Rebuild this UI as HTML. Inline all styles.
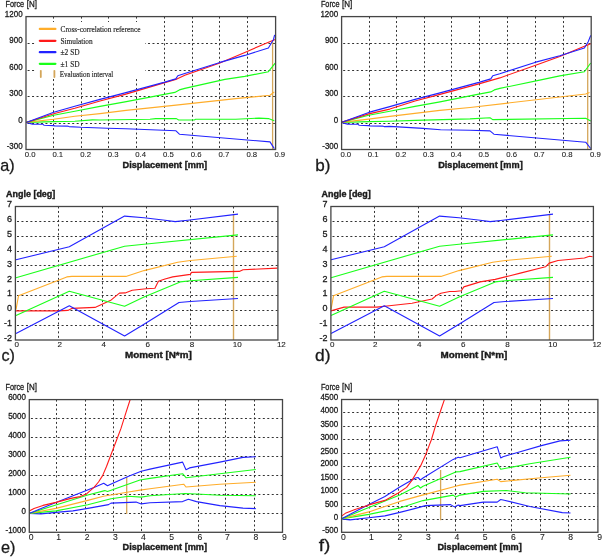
<!DOCTYPE html><html><head><meta charset="utf-8"><style>html,body{margin:0;padding:0;background:#fff;}svg{display:block;will-change:transform;}</style></head><body>
<svg width="602" height="557" viewBox="0 0 602 557" font-family="Liberation Sans, sans-serif">
<style>text{stroke:#1a1a1a;stroke-width:0.28px;paint-order:normal;} .tk text{stroke-width:0.08px;} .lg text{stroke:#2a2a2a;stroke-width:0.18px;} text.b{stroke-width:0.4px;}</style>
<rect x="0" y="0" width="602" height="557" fill="#fff"/>
<g stroke="#333333" stroke-width="1" stroke-dasharray="2 2.46" stroke-dashoffset="2.86" fill="none"><line x1="26" y1="43.5" x2="275.6" y2="43.5"/><line x1="26" y1="70.5" x2="275.6" y2="70.5"/><line x1="26" y1="96.5" x2="275.6" y2="96.5"/><line x1="26" y1="123.5" x2="275.6" y2="123.5"/></g>
<g stroke="#333333" stroke-width="1" stroke-dasharray="2 2.46" fill="none"><line x1="53.5" y1="16.6" x2="53.5" y2="149.5"/><line x1="81.5" y1="16.6" x2="81.5" y2="149.5"/><line x1="108.5" y1="16.6" x2="108.5" y2="149.5"/><line x1="136.5" y1="16.6" x2="136.5" y2="149.5"/><line x1="164.5" y1="16.6" x2="164.5" y2="149.5"/><line x1="192.5" y1="16.6" x2="192.5" y2="149.5"/><line x1="219.5" y1="16.6" x2="219.5" y2="149.5"/><line x1="247.5" y1="16.6" x2="247.5" y2="149.5"/></g>
<rect x="35" y="22" width="110" height="57" fill="#fff"/>
<g class="lg" font-family="Liberation Serif, serif" font-size="8.1" fill="#2a2a2a"><text x="60.5" y="32" textLength="80" lengthAdjust="spacingAndGlyphs">Cross-correlation reference</text><text x="60.5" y="43.6" textLength="32.1" lengthAdjust="spacingAndGlyphs">Simulation</text><text x="60.5" y="55.1" textLength="19.1" lengthAdjust="spacingAndGlyphs">±2 SD</text><text x="60.5" y="66.6" textLength="19.1" lengthAdjust="spacingAndGlyphs">±1 SD</text><text x="59.7" y="77.1" textLength="53.5" lengthAdjust="spacingAndGlyphs">Evaluation interval</text></g>
<line x1="39.8" y1="28.9" x2="55.4" y2="28.9" stroke="#ffad2a" stroke-width="2.2" stroke-linecap="round"/><line x1="39.8" y1="40.8" x2="55.4" y2="40.8" stroke="#ff1a1a" stroke-width="2.2" stroke-linecap="round"/><line x1="39.8" y1="52.2" x2="55.4" y2="52.2" stroke="#2222ff" stroke-width="2.2" stroke-linecap="round"/><line x1="39.8" y1="63.8" x2="55.4" y2="63.8" stroke="#1aff1a" stroke-width="2.2" stroke-linecap="round"/><line x1="40.8" y1="70.8" x2="40.8" y2="77" stroke="#d4a65a" stroke-width="1.8" stroke-linecap="round"/><line x1="54.4" y1="70.8" x2="54.4" y2="77" stroke="#d4a65a" stroke-width="1.8" stroke-linecap="round"/>
<polyline points="272.6,41.5 272.6,149.4" fill="none" stroke="#d4a65a" stroke-width="1.3" stroke-linejoin="round"/>
<polyline points="26.2,122.4 53.7,121.6 74.8,121.2 92.4,119.9 100,120 150,119.3 155.7,118.6 176.4,118.6 178.6,120 194.3,120 195.7,119.3 235.7,119.3 259,118.1 268.4,118.6 274.3,120.7" fill="none" stroke="#1aff1a" stroke-width="1.1" stroke-linejoin="round"/>
<polyline points="26.2,122.4 32.5,124.1 42.9,124.2 44.1,125.3 53.2,125.6 54.9,125.9 67.4,126.1 69,126.6 80.8,127.3 107.4,128.2 125.7,128.7 176,130.8 179.4,134.2 270,141.9 274.3,148.6" fill="none" stroke="#2222ff" stroke-width="1.1" stroke-linejoin="round"/>
<polyline points="26.2,122.4 53.7,119.3 74.8,116.2 100,113.6 126,110.4 150,107.9 176,105.1 235.7,98.6 270,95.3 274.3,91.9" fill="none" stroke="#ffad2a" stroke-width="1.1" stroke-linejoin="round"/>
<polyline points="26.2,122.4 53.7,115.3 74.8,111.2 100,106.4 125,101.9 150,97.1 174.8,92.4 179.3,89.9 184.8,88.4 224.9,79.4 244.8,76.4 268.4,71.7 275.2,63.2" fill="none" stroke="#1aff1a" stroke-width="1.1" stroke-linejoin="round"/>
<polyline points="26.2,122.4 53.7,113.7 74.8,108.3 100,101 125,94.4 163.9,82.9 175.8,79.4 184.8,75.2 219.9,62.9 244.8,52.4 270.9,41.2 275.2,39.5" fill="none" stroke="#ff1a1a" stroke-width="1.1" stroke-linejoin="round"/>
<polyline points="26.2,122.4 53.7,112.3 74.8,106.2 100,99.4 125,92.9 163.9,82.4 175.8,78.9 177.8,75.8 184.8,73.5 219.9,62.4 244.8,55.4 268.4,48 273.5,39.5 274.6,34.9" fill="none" stroke="#2222ff" stroke-width="1.1" stroke-linejoin="round"/>
<rect x="26" y="16.6" width="249.6" height="132.9" fill="none" stroke="#454545" stroke-width="1.3"/>
<g font-size="8.4" fill="#1a1a1a" text-anchor="end"><text x="22.6" y="16.8" textLength="17.75" lengthAdjust="spacingAndGlyphs">1200</text><text x="22.6" y="42.9" textLength="13.31" lengthAdjust="spacingAndGlyphs">900</text><text x="22.6" y="69.85" textLength="13.31" lengthAdjust="spacingAndGlyphs">600</text><text x="22.6" y="96.1" textLength="13.31" lengthAdjust="spacingAndGlyphs">300</text><text x="22.6" y="122.9" textLength="4.44" lengthAdjust="spacingAndGlyphs">0</text><text x="22.6" y="149" textLength="15.97" lengthAdjust="spacingAndGlyphs">-300</text></g>
<g class="tk" font-size="8.0" fill="#1a1a1a"><text x="24.8" y="156.9" textLength="10.79" lengthAdjust="spacingAndGlyphs">0.0</text><text x="52.4" y="156.9" textLength="10.79" lengthAdjust="spacingAndGlyphs">0.1</text><text x="80.2" y="156.9" textLength="10.79" lengthAdjust="spacingAndGlyphs">0.2</text><text x="107.7" y="156.9" textLength="10.79" lengthAdjust="spacingAndGlyphs">0.3</text><text x="135.3" y="156.9" textLength="10.79" lengthAdjust="spacingAndGlyphs">0.4</text><text x="163" y="156.9" textLength="10.79" lengthAdjust="spacingAndGlyphs">0.5</text><text x="190.8" y="156.9" textLength="10.79" lengthAdjust="spacingAndGlyphs">0.6</text><text x="218.5" y="156.9" textLength="10.79" lengthAdjust="spacingAndGlyphs">0.7</text><text x="246.4" y="156.9" textLength="10.79" lengthAdjust="spacingAndGlyphs">0.8</text><text x="274.4" y="156.9" textLength="10.79" lengthAdjust="spacingAndGlyphs">0.9</text></g>
<text x="5.5" y="7.3" font-size="8.2" fill="#1a1a1a" textLength="18.6" lengthAdjust="spacingAndGlyphs">Force</text>
<text x="26.7" y="7.2" font-size="8.2" fill="#1a1a1a" textLength="10.2" lengthAdjust="spacingAndGlyphs">[N]</text>
<text x="122.6" y="167.5" font-size="9.4" font-weight="bold" class="b" fill="#1a1a1a" textLength="84.5" lengthAdjust="spacingAndGlyphs">Displacement [mm]</text>
<text x="0.3" y="170.5" font-size="17" fill="#1a1a1a" textLength="14.4" lengthAdjust="spacingAndGlyphs">a)</text>
<g stroke="#333333" stroke-width="1" stroke-dasharray="2 2.46" stroke-dashoffset="2.86" fill="none"><line x1="341.6" y1="43.5" x2="591.2" y2="43.5"/><line x1="341.6" y1="70.5" x2="591.2" y2="70.5"/><line x1="341.6" y1="96.5" x2="591.2" y2="96.5"/><line x1="341.6" y1="123.5" x2="591.2" y2="123.5"/></g>
<g stroke="#333333" stroke-width="1" stroke-dasharray="2 2.46" fill="none"><line x1="369.5" y1="16.6" x2="369.5" y2="149.5"/><line x1="396.5" y1="16.6" x2="396.5" y2="149.5"/><line x1="424.5" y1="16.6" x2="424.5" y2="149.5"/><line x1="451.5" y1="16.6" x2="451.5" y2="149.5"/><line x1="479.5" y1="16.6" x2="479.5" y2="149.5"/><line x1="507.5" y1="16.6" x2="507.5" y2="149.5"/><line x1="535.5" y1="16.6" x2="535.5" y2="149.5"/><line x1="563.5" y1="16.6" x2="563.5" y2="149.5"/></g>
<polyline points="587.7,45 587.7,149.4" fill="none" stroke="#d4a65a" stroke-width="1.3" stroke-linejoin="round"/>
<polyline points="341.2,122.4 368.7,121.6 389.8,121.2 415.4,120.4 470,118.9 490,117.8 492.7,119.6 585.7,118.3 590.7,120.9" fill="none" stroke="#1aff1a" stroke-width="1.1" stroke-linejoin="round"/>
<polyline points="341.2,122.4 347.5,124.1 358,124.2 359.2,125.3 368.5,125.6 370,125.9 382.5,126.1 384,126.6 389.8,126.4 423,128.4 440.6,129.7 470,130.2 490,130.9 493.9,134.2 585.7,142.2 590.7,148.5" fill="none" stroke="#2222ff" stroke-width="1.1" stroke-linejoin="round"/>
<polyline points="341.2,122.4 368.7,119.1 389.8,116.4 439.8,110.4 470,107.5 585.7,94 589.5,92.5" fill="none" stroke="#ffad2a" stroke-width="1.1" stroke-linejoin="round"/>
<polyline points="341.2,122.4 368.7,115.3 389.8,111.2 415,106.4 440,101.9 474.9,94.9 490.8,91.9 494.3,89.9 499.8,88.4 540.9,79.9 559.8,75.9 584.4,71.8 590.7,63" fill="none" stroke="#1aff1a" stroke-width="1.1" stroke-linejoin="round"/>
<polyline points="341.2,122.4 368.7,113.9 389.8,109.1 415,101 440,94.4 478.9,83.9 499.8,77.9 534.9,65.4 559.8,56.4 583.2,46.7 590.7,43.7" fill="none" stroke="#ff1a1a" stroke-width="1.1" stroke-linejoin="round"/>
<polyline points="341.2,122.4 368.7,112.4 389.8,106.6 415,99.4 440,92.9 478.9,82.4 490.8,78.9 492.8,75.7 499.8,73.7 534.9,62.4 559.8,55.7 584.4,48 588.2,41.7 590.7,35.4" fill="none" stroke="#2222ff" stroke-width="1.1" stroke-linejoin="round"/>
<rect x="341.6" y="16.6" width="249.6" height="132.9" fill="none" stroke="#454545" stroke-width="1.3"/>
<g font-size="8.4" fill="#1a1a1a" text-anchor="end"><text x="338.2" y="16.8" textLength="17.75" lengthAdjust="spacingAndGlyphs">1200</text><text x="338.2" y="42.9" textLength="13.31" lengthAdjust="spacingAndGlyphs">900</text><text x="338.2" y="69.85" textLength="13.31" lengthAdjust="spacingAndGlyphs">600</text><text x="338.2" y="96.1" textLength="13.31" lengthAdjust="spacingAndGlyphs">300</text><text x="338.2" y="122.9" textLength="4.44" lengthAdjust="spacingAndGlyphs">0</text><text x="338.2" y="149" textLength="15.97" lengthAdjust="spacingAndGlyphs">-300</text></g>
<g class="tk" font-size="8.0" fill="#1a1a1a"><text x="340.4" y="156.9" textLength="10.79" lengthAdjust="spacingAndGlyphs">0.0</text><text x="367.8" y="156.9" textLength="10.79" lengthAdjust="spacingAndGlyphs">0.1</text><text x="395.6" y="156.9" textLength="10.79" lengthAdjust="spacingAndGlyphs">0.2</text><text x="423.1" y="156.9" textLength="10.79" lengthAdjust="spacingAndGlyphs">0.3</text><text x="450.7" y="156.9" textLength="10.79" lengthAdjust="spacingAndGlyphs">0.4</text><text x="478.4" y="156.9" textLength="10.79" lengthAdjust="spacingAndGlyphs">0.5</text><text x="506.2" y="156.9" textLength="10.79" lengthAdjust="spacingAndGlyphs">0.6</text><text x="533.9" y="156.9" textLength="10.79" lengthAdjust="spacingAndGlyphs">0.7</text><text x="561.8" y="156.9" textLength="10.79" lengthAdjust="spacingAndGlyphs">0.8</text><text x="590" y="156.9" textLength="10.79" lengthAdjust="spacingAndGlyphs">0.9</text></g>
<text x="320.9" y="7.3" font-size="8.2" fill="#1a1a1a" textLength="18.6" lengthAdjust="spacingAndGlyphs">Force</text>
<text x="342.1" y="7.2" font-size="8.2" fill="#1a1a1a" textLength="10.2" lengthAdjust="spacingAndGlyphs">[N]</text>
<text x="438.20000000000005" y="167.5" font-size="9.4" font-weight="bold" class="b" fill="#1a1a1a" textLength="84.5" lengthAdjust="spacingAndGlyphs">Displacement [mm]</text>
<text x="315.2" y="170.5" font-size="17" fill="#1a1a1a" textLength="15.2" lengthAdjust="spacingAndGlyphs">b)</text>
<g stroke="#333333" stroke-width="1" stroke-dasharray="2 2.46" stroke-dashoffset="2.86" fill="none"><line x1="15.4" y1="221.5" x2="277.9" y2="221.5"/><line x1="15.4" y1="236.5" x2="277.9" y2="236.5"/><line x1="15.4" y1="251.5" x2="277.9" y2="251.5"/><line x1="15.4" y1="265.5" x2="277.9" y2="265.5"/><line x1="15.4" y1="281.5" x2="277.9" y2="281.5"/><line x1="15.4" y1="295.5" x2="277.9" y2="295.5"/><line x1="15.4" y1="310.5" x2="277.9" y2="310.5"/><line x1="15.4" y1="325.5" x2="277.9" y2="325.5"/></g>
<g stroke="#333333" stroke-width="1" stroke-dasharray="2 2.46" fill="none"><line x1="58.5" y1="206.5" x2="58.5" y2="340"/><line x1="102.5" y1="206.5" x2="102.5" y2="340"/><line x1="146.5" y1="206.5" x2="146.5" y2="340"/><line x1="190.5" y1="206.5" x2="190.5" y2="340"/><line x1="233.5" y1="206.5" x2="233.5" y2="340"/></g>
<polyline points="233.5,213.8 233.5,340" fill="none" stroke="#d4a65a" stroke-width="1.4" stroke-linejoin="round"/>
<polyline points="16,310.9 58.9,310.9 67.8,310.4 71.8,308.4 95,307.4 111.3,299.9 119.4,293.1 125.2,292.9 132.2,290.3 146.2,288.8 154.9,288.3 158.4,281.3 165,279 172.7,276.9 190.3,274.4 191.5,272.4 239.3,271.4 243,269.8 277.4,268.1" fill="none" stroke="#ff1a1a" stroke-width="1.1" stroke-linejoin="round"/>
<polyline points="16,333.5 69.3,305.8 124.6,336 144,324.2 179,302.5 190.3,301.5 238,298.5" fill="none" stroke="#2222ff" stroke-width="1.1" stroke-linejoin="round"/>
<polyline points="16,315.4 69.3,291.3 124.6,306.3 144,297 180.2,281.9 190.3,280.7 238,277.4" fill="none" stroke="#1aff1a" stroke-width="1.1" stroke-linejoin="round"/>
<polyline points="16,309.6 18.5,295.8 66.8,276.9 71.8,276.4 125.9,276.4 144,270.6 177.7,262.3 190.3,260.5 236.8,256.3" fill="none" stroke="#ffad2a" stroke-width="1.1" stroke-linejoin="round"/>
<polyline points="16,277.7 124.6,246.2 144,244.2 238,234.9" fill="none" stroke="#1aff1a" stroke-width="1.1" stroke-linejoin="round"/>
<polyline points="16,259.8 69.3,246.7 124.6,216.1 144,217.8 165.1,220.3 175.2,221.6 187.8,220.3 238,214.1" fill="none" stroke="#2222ff" stroke-width="1.1" stroke-linejoin="round"/>
<rect x="15.4" y="206.5" width="262.5" height="133.5" fill="none" stroke="#454545" stroke-width="1.3"/>
<g font-size="9.0" fill="#1a1a1a" text-anchor="end"><text x="12" y="206.7" textLength="5" lengthAdjust="spacingAndGlyphs">7</text><text x="12" y="222.3" textLength="5" lengthAdjust="spacingAndGlyphs">6</text><text x="12" y="237.2" textLength="5" lengthAdjust="spacingAndGlyphs">5</text><text x="12" y="252" textLength="5" lengthAdjust="spacingAndGlyphs">4</text><text x="12" y="266.6" textLength="5" lengthAdjust="spacingAndGlyphs">3</text><text x="12" y="281.7" textLength="5" lengthAdjust="spacingAndGlyphs">2</text><text x="12" y="296.2" textLength="5" lengthAdjust="spacingAndGlyphs">1</text><text x="12" y="311.3" textLength="5" lengthAdjust="spacingAndGlyphs">0</text><text x="12" y="325.8" textLength="8" lengthAdjust="spacingAndGlyphs">-1</text><text x="12" y="340.7" textLength="8" lengthAdjust="spacingAndGlyphs">-2</text></g>
<g class="tk" font-size="7.2" fill="#1a1a1a"><text x="14.4" y="347.4" textLength="4.48" lengthAdjust="spacingAndGlyphs">0</text><text x="57.6" y="347.4" textLength="4.48" lengthAdjust="spacingAndGlyphs">2</text><text x="101.6" y="347.4" textLength="4.48" lengthAdjust="spacingAndGlyphs">4</text><text x="145.4" y="347.4" textLength="4.48" lengthAdjust="spacingAndGlyphs">6</text><text x="189.7" y="347.4" textLength="4.48" lengthAdjust="spacingAndGlyphs">8</text><text x="232.7" y="347.4" textLength="8.97" lengthAdjust="spacingAndGlyphs">10</text><text x="276.9" y="347.4" textLength="8.97" lengthAdjust="spacingAndGlyphs">12</text></g>
<text x="6.1" y="197.0" font-size="9.0" font-weight="bold" class="b" fill="#1a1a1a" textLength="49.2" lengthAdjust="spacingAndGlyphs">Angle [deg]</text>
<text x="125.0" y="357.6" font-size="9.4" font-weight="bold" class="b" fill="#1a1a1a" textLength="66.7" lengthAdjust="spacingAndGlyphs">Moment [N*m]</text>
<text x="1.5" y="360.5" font-size="17" fill="#1a1a1a" textLength="13.5" lengthAdjust="spacingAndGlyphs">c)</text>
<g stroke="#333333" stroke-width="1" stroke-dasharray="2 2.46" stroke-dashoffset="2.86" fill="none"><line x1="330.9" y1="221.5" x2="593.4" y2="221.5"/><line x1="330.9" y1="236.5" x2="593.4" y2="236.5"/><line x1="330.9" y1="251.5" x2="593.4" y2="251.5"/><line x1="330.9" y1="265.5" x2="593.4" y2="265.5"/><line x1="330.9" y1="281.5" x2="593.4" y2="281.5"/><line x1="330.9" y1="295.5" x2="593.4" y2="295.5"/><line x1="330.9" y1="310.5" x2="593.4" y2="310.5"/><line x1="330.9" y1="325.5" x2="593.4" y2="325.5"/></g>
<g stroke="#333333" stroke-width="1" stroke-dasharray="2 2.46" fill="none"><line x1="374.5" y1="206.5" x2="374.5" y2="340"/><line x1="418.5" y1="206.5" x2="418.5" y2="340"/><line x1="461.5" y1="206.5" x2="461.5" y2="340"/><line x1="506.5" y1="206.5" x2="506.5" y2="340"/><line x1="549.5" y1="206.5" x2="549.5" y2="340"/></g>
<polyline points="549.5,213.8 549.5,340" fill="none" stroke="#d4a65a" stroke-width="1.4" stroke-linejoin="round"/>
<polyline points="331,310.9 344.1,307.1 376.8,307.1 389.3,305.8 412,303.3 432.1,299 435.9,295.8 440.9,293.3 449.7,291.5 455,291.5 461.3,290.7 463.8,286.9 480.1,281.9 495.2,279.4 505.3,276.9 520.3,273.1 545.5,266.8 549.2,263.1 558,260.5 584.4,258 589.5,256.3 592.6,256.8" fill="none" stroke="#ff1a1a" stroke-width="1.1" stroke-linejoin="round"/>
<polyline points="331,333.5 384.3,305.8 439.6,336 459,324.2 494,302.5 505.3,301.5 553,298.5" fill="none" stroke="#2222ff" stroke-width="1.1" stroke-linejoin="round"/>
<polyline points="331,315.4 384.3,291.3 439.6,306.3 459,297 495.2,281.9 505.3,280.7 553,277.4" fill="none" stroke="#1aff1a" stroke-width="1.1" stroke-linejoin="round"/>
<polyline points="331,309.6 333.5,295.8 381.8,276.9 386.8,276.4 440.9,276.4 459,270.6 492.7,262.3 505.3,260.5 551.8,256.3" fill="none" stroke="#ffad2a" stroke-width="1.1" stroke-linejoin="round"/>
<polyline points="331,277.7 439.6,246.2 459,244.2 553,234.9" fill="none" stroke="#1aff1a" stroke-width="1.1" stroke-linejoin="round"/>
<polyline points="331,259.8 384.3,246.7 439.6,216.1 459,217.8 480.1,220.3 490.2,221.6 502.8,220.3 553,214.1" fill="none" stroke="#2222ff" stroke-width="1.1" stroke-linejoin="round"/>
<rect x="330.9" y="206.5" width="262.5" height="133.5" fill="none" stroke="#454545" stroke-width="1.3"/>
<g font-size="9.0" fill="#1a1a1a" text-anchor="end"><text x="327.5" y="206.7" textLength="5" lengthAdjust="spacingAndGlyphs">7</text><text x="327.5" y="222.3" textLength="5" lengthAdjust="spacingAndGlyphs">6</text><text x="327.5" y="237.2" textLength="5" lengthAdjust="spacingAndGlyphs">5</text><text x="327.5" y="252" textLength="5" lengthAdjust="spacingAndGlyphs">4</text><text x="327.5" y="266.6" textLength="5" lengthAdjust="spacingAndGlyphs">3</text><text x="327.5" y="281.7" textLength="5" lengthAdjust="spacingAndGlyphs">2</text><text x="327.5" y="296.2" textLength="5" lengthAdjust="spacingAndGlyphs">1</text><text x="327.5" y="311.3" textLength="5" lengthAdjust="spacingAndGlyphs">0</text><text x="327.5" y="325.8" textLength="8" lengthAdjust="spacingAndGlyphs">-1</text><text x="327.5" y="340.7" textLength="8" lengthAdjust="spacingAndGlyphs">-2</text></g>
<g class="tk" font-size="7.2" fill="#1a1a1a"><text x="329.9" y="347.4" textLength="4.48" lengthAdjust="spacingAndGlyphs">0</text><text x="373.1" y="347.4" textLength="4.48" lengthAdjust="spacingAndGlyphs">2</text><text x="417.1" y="347.4" textLength="4.48" lengthAdjust="spacingAndGlyphs">4</text><text x="460.9" y="347.4" textLength="4.48" lengthAdjust="spacingAndGlyphs">6</text><text x="505.2" y="347.4" textLength="4.48" lengthAdjust="spacingAndGlyphs">8</text><text x="548.2" y="347.4" textLength="8.97" lengthAdjust="spacingAndGlyphs">10</text><text x="592.4" y="347.4" textLength="8.97" lengthAdjust="spacingAndGlyphs">12</text></g>
<text x="321.6" y="197.0" font-size="9.0" font-weight="bold" class="b" fill="#1a1a1a" textLength="49.2" lengthAdjust="spacingAndGlyphs">Angle [deg]</text>
<text x="440.5" y="357.6" font-size="9.4" font-weight="bold" class="b" fill="#1a1a1a" textLength="66.7" lengthAdjust="spacingAndGlyphs">Moment [N*m]</text>
<text x="315.0" y="360.5" font-size="17" fill="#1a1a1a" textLength="15.5" lengthAdjust="spacingAndGlyphs">d)</text>
<g stroke="#333333" stroke-width="1" stroke-dasharray="2 2.46" stroke-dashoffset="2.86" fill="none"><line x1="29.3" y1="418.5" x2="282.5" y2="418.5"/><line x1="29.3" y1="437.5" x2="282.5" y2="437.5"/><line x1="29.3" y1="456.5" x2="282.5" y2="456.5"/><line x1="29.3" y1="475.5" x2="282.5" y2="475.5"/><line x1="29.3" y1="494.5" x2="282.5" y2="494.5"/><line x1="29.3" y1="513.5" x2="282.5" y2="513.5"/></g>
<g stroke="#333333" stroke-width="1" stroke-dasharray="2 2.46" fill="none"><line x1="56.5" y1="399.6" x2="56.5" y2="532.3"/><line x1="85.5" y1="399.6" x2="85.5" y2="532.3"/><line x1="113.5" y1="399.6" x2="113.5" y2="532.3"/><line x1="141.5" y1="399.6" x2="141.5" y2="532.3"/><line x1="169.5" y1="399.6" x2="169.5" y2="532.3"/><line x1="198.5" y1="399.6" x2="198.5" y2="532.3"/><line x1="225.5" y1="399.6" x2="225.5" y2="532.3"/><line x1="254.5" y1="399.6" x2="254.5" y2="532.3"/></g>
<polyline points="126.7,477 126.7,514" fill="none" stroke="#d4a65a" stroke-width="1.3" stroke-linejoin="round"/>
<polyline points="29.2,513.4 41,513.9 55.9,512.4 72.9,510.9 87.8,508.4 108.5,504.6 111,503.1 136.1,502.1 141.2,503.9 150,502.8 182.6,501.6 188.4,499.3 196.5,501.6 219.8,505.6 243,508.1 255.8,508.6" fill="none" stroke="#2222ff" stroke-width="1.1" stroke-linejoin="round"/>
<polyline points="29.2,513.4 55.9,510.9 87.8,504.7 111,498.8 128.6,496.3 141.2,497.1 150,495.8 184.9,493.5 196.5,494 219.8,495.3 255.8,495.8" fill="none" stroke="#1aff1a" stroke-width="1.1" stroke-linejoin="round"/>
<polyline points="29.2,513.4 55.9,508.4 87.8,500.4 103.4,496.3 128.6,492 140,490.1 150,488.8 183.7,484.2 186,487 219.8,484.2 255.8,482.3" fill="none" stroke="#ffad2a" stroke-width="1.1" stroke-linejoin="round"/>
<polyline points="29.2,513.4 55.9,504.9 87.8,495 104.8,490.6 107.5,491.5 140,480 150,478.4 182.6,473.7 186,477.7 219.8,473.7 255.8,469.5" fill="none" stroke="#1aff1a" stroke-width="1.1" stroke-linejoin="round"/>
<polyline points="29.2,513.4 55.9,502.4 83.8,491.5 95.1,486.9 103.7,483.3 107.5,485.8 112.3,483.6 128.6,476.2 141.2,471.2 150,469.1 182.6,462.1 186,469.8 189.5,467.9 219.8,462.1 243,457.4 255.8,456.7" fill="none" stroke="#2222ff" stroke-width="1.1" stroke-linejoin="round"/>
<polyline points="29.3,511 34,508.4 43,505.4 55.9,502.4 70.9,498.4 80,496.6 86.5,493.9 94,487.4 98.5,482 102.6,475.6 106.5,466.5 110.2,456.7 116.6,440 121,428.4 126.1,412.1 130.2,399.5" fill="none" stroke="#ff1a1a" stroke-width="1.1" stroke-linejoin="round"/>
<rect x="29.3" y="399.6" width="253.2" height="132.7" fill="none" stroke="#454545" stroke-width="1.3"/>
<g font-size="8.4" fill="#1a1a1a" text-anchor="end"><text x="25.9" y="399.8" textLength="17.75" lengthAdjust="spacingAndGlyphs">6000</text><text x="25.9" y="419" textLength="17.75" lengthAdjust="spacingAndGlyphs">5000</text><text x="25.9" y="437.9" textLength="17.75" lengthAdjust="spacingAndGlyphs">4000</text><text x="25.9" y="457.1" textLength="17.75" lengthAdjust="spacingAndGlyphs">3000</text><text x="25.9" y="476" textLength="17.75" lengthAdjust="spacingAndGlyphs">2000</text><text x="25.9" y="494.9" textLength="17.75" lengthAdjust="spacingAndGlyphs">1000</text><text x="25.9" y="513.9" textLength="4.44" lengthAdjust="spacingAndGlyphs">0</text><text x="25.9" y="532.6" textLength="20.4" lengthAdjust="spacingAndGlyphs">-1000</text></g>
<g class="tk" font-size="8.6" fill="#1a1a1a"><text x="28.7" y="539.7" textLength="4.78" lengthAdjust="spacingAndGlyphs">0</text><text x="56.3" y="539.7" textLength="4.78" lengthAdjust="spacingAndGlyphs">1</text><text x="84.7" y="539.7" textLength="4.78" lengthAdjust="spacingAndGlyphs">2</text><text x="112.9" y="539.7" textLength="4.78" lengthAdjust="spacingAndGlyphs">3</text><text x="141.1" y="539.7" textLength="4.78" lengthAdjust="spacingAndGlyphs">4</text><text x="169.2" y="539.7" textLength="4.78" lengthAdjust="spacingAndGlyphs">5</text><text x="197.5" y="539.7" textLength="4.78" lengthAdjust="spacingAndGlyphs">6</text><text x="225" y="539.7" textLength="4.78" lengthAdjust="spacingAndGlyphs">7</text><text x="253.4" y="539.7" textLength="4.78" lengthAdjust="spacingAndGlyphs">8</text><text x="281.9" y="539.7" textLength="4.78" lengthAdjust="spacingAndGlyphs">9</text></g>
<text x="5.5" y="390.0" font-size="8.2" fill="#1a1a1a" textLength="18.6" lengthAdjust="spacingAndGlyphs">Force</text>
<text x="26.7" y="389.9" font-size="8.2" fill="#1a1a1a" textLength="10.2" lengthAdjust="spacingAndGlyphs">[N]</text>
<text x="122.6" y="550.0" font-size="9.4" font-weight="bold" class="b" fill="#1a1a1a" textLength="84.4" lengthAdjust="spacingAndGlyphs">Displacement [mm]</text>
<text x="0.9" y="552.6" font-size="17" fill="#1a1a1a" textLength="14.5" lengthAdjust="spacingAndGlyphs">e)</text>
<g stroke="#333333" stroke-width="1" stroke-dasharray="2 2.46" stroke-dashoffset="2.86" fill="none"><line x1="341.6" y1="412.5" x2="597.9" y2="412.5"/><line x1="341.6" y1="426.5" x2="597.9" y2="426.5"/><line x1="341.6" y1="439.5" x2="597.9" y2="439.5"/><line x1="341.6" y1="453.5" x2="597.9" y2="453.5"/><line x1="341.6" y1="466.5" x2="597.9" y2="466.5"/><line x1="341.6" y1="479.5" x2="597.9" y2="479.5"/><line x1="341.6" y1="493.5" x2="597.9" y2="493.5"/><line x1="341.6" y1="506.5" x2="597.9" y2="506.5"/><line x1="341.6" y1="519.5" x2="597.9" y2="519.5"/></g>
<g stroke="#333333" stroke-width="1" stroke-dasharray="2 2.46" fill="none"><line x1="369.5" y1="399.5" x2="369.5" y2="532.3"/><line x1="398.5" y1="399.5" x2="398.5" y2="532.3"/><line x1="426.5" y1="399.5" x2="426.5" y2="532.3"/><line x1="455.5" y1="399.5" x2="455.5" y2="532.3"/><line x1="483.5" y1="399.5" x2="483.5" y2="532.3"/><line x1="511.5" y1="399.5" x2="511.5" y2="532.3"/><line x1="540.5" y1="399.5" x2="540.5" y2="532.3"/><line x1="568.5" y1="399.5" x2="568.5" y2="532.3"/></g>
<polyline points="440.6,470 440.6,520.2" fill="none" stroke="#d4a65a" stroke-width="1.3" stroke-linejoin="round"/>
<polyline points="341.2,518.9 350,519.9 368.9,517.7 384.9,515.9 399.8,512.4 415.4,508.4 425.5,505.6 450.6,504.6 454.4,506.9 458.2,505.1 460,505.6 483.3,502.1 497.2,502.1 500.7,499.5 504.2,500.2 529.8,506.5 562.3,512.6 570.5,513" fill="none" stroke="#2222ff" stroke-width="1.1" stroke-linejoin="round"/>
<polyline points="341.2,518.9 368.9,514.4 399.8,507.9 423,500.6 453.2,495.1 455.7,497.1 460,495.1 483.3,491.4 506.5,490.5 525.1,492.8 570.5,494" fill="none" stroke="#1aff1a" stroke-width="1.1" stroke-linejoin="round"/>
<polyline points="341.2,518.9 368.9,511.9 399.8,501.4 420.5,495.6 455.7,486.3 460,485.1 497.2,479.3 500.7,481.6 541.4,477.7 570.5,475.3" fill="none" stroke="#ffad2a" stroke-width="1.1" stroke-linejoin="round"/>
<polyline points="341.2,518.9 368.9,507.4 399.8,495 418,485.5 420.5,488 423,486.3 455.7,471.9 460,471.6 497.2,463 500.7,469.3 529.8,463.7 570.5,457.2" fill="none" stroke="#1aff1a" stroke-width="1.1" stroke-linejoin="round"/>
<polyline points="341.2,518.9 368.9,504.4 384.9,496.5 399.8,487 415.4,478 418,477.5 420.5,480 423,478 453.2,459.4 458.2,457.3 460,457.7 497.2,446.7 500.7,457.9 503,456.7 541.4,445.6 560,440.9 570.5,440.2" fill="none" stroke="#2222ff" stroke-width="1.1" stroke-linejoin="round"/>
<polyline points="341.2,516.4 346,512.9 355,509.4 368.9,504.9 384.9,500.4 397.9,493.3 406.6,487.4 411.9,480.4 416,473.5 420.6,465.9 426,454 429.2,445.4 431.3,440 435.5,425.9 440.6,410.8 444.4,399.6" fill="none" stroke="#ff1a1a" stroke-width="1.1" stroke-linejoin="round"/>
<rect x="341.6" y="399.5" width="256.3" height="132.8" fill="none" stroke="#454545" stroke-width="1.3"/>
<g font-size="8.4" fill="#1a1a1a" text-anchor="end"><text x="338.2" y="399.7" textLength="17.75" lengthAdjust="spacingAndGlyphs">4500</text><text x="338.2" y="413.05" textLength="17.75" lengthAdjust="spacingAndGlyphs">4000</text><text x="338.2" y="426.6" textLength="17.75" lengthAdjust="spacingAndGlyphs">3500</text><text x="338.2" y="440" textLength="17.75" lengthAdjust="spacingAndGlyphs">3000</text><text x="338.2" y="453.7" textLength="17.75" lengthAdjust="spacingAndGlyphs">2500</text><text x="338.2" y="466.3" textLength="17.75" lengthAdjust="spacingAndGlyphs">2000</text><text x="338.2" y="479.7" textLength="17.75" lengthAdjust="spacingAndGlyphs">1500</text><text x="338.2" y="493.4" textLength="17.75" lengthAdjust="spacingAndGlyphs">1000</text><text x="338.2" y="506.75" textLength="13.31" lengthAdjust="spacingAndGlyphs">500</text><text x="338.2" y="519.8" textLength="4.44" lengthAdjust="spacingAndGlyphs">0</text><text x="338.2" y="532.6" textLength="15.97" lengthAdjust="spacingAndGlyphs">-500</text></g>
<g class="tk" font-size="8.6" fill="#1a1a1a"><text x="341" y="539.7" textLength="4.78" lengthAdjust="spacingAndGlyphs">0</text><text x="369" y="539.7" textLength="4.78" lengthAdjust="spacingAndGlyphs">1</text><text x="397.6" y="539.7" textLength="4.78" lengthAdjust="spacingAndGlyphs">2</text><text x="426" y="539.7" textLength="4.78" lengthAdjust="spacingAndGlyphs">3</text><text x="454.6" y="539.7" textLength="4.78" lengthAdjust="spacingAndGlyphs">4</text><text x="482.7" y="539.7" textLength="4.78" lengthAdjust="spacingAndGlyphs">5</text><text x="511" y="539.7" textLength="4.78" lengthAdjust="spacingAndGlyphs">6</text><text x="539.9" y="539.7" textLength="4.78" lengthAdjust="spacingAndGlyphs">7</text><text x="568.3" y="539.7" textLength="4.78" lengthAdjust="spacingAndGlyphs">8</text><text x="597.3" y="539.7" textLength="4.78" lengthAdjust="spacingAndGlyphs">9</text></g>
<text x="320.9" y="390.2" font-size="8.2" fill="#1a1a1a" textLength="18.6" lengthAdjust="spacingAndGlyphs">Force</text>
<text x="342.1" y="390.1" font-size="8.2" fill="#1a1a1a" textLength="10.2" lengthAdjust="spacingAndGlyphs">[N]</text>
<text x="437.4" y="550.0" font-size="9.4" font-weight="bold" class="b" fill="#1a1a1a" textLength="84.4" lengthAdjust="spacingAndGlyphs">Displacement [mm]</text>
<text x="318.8" y="551.0" font-size="17" fill="#1a1a1a" textLength="11.6" lengthAdjust="spacingAndGlyphs">f)</text>
</svg></body></html>
